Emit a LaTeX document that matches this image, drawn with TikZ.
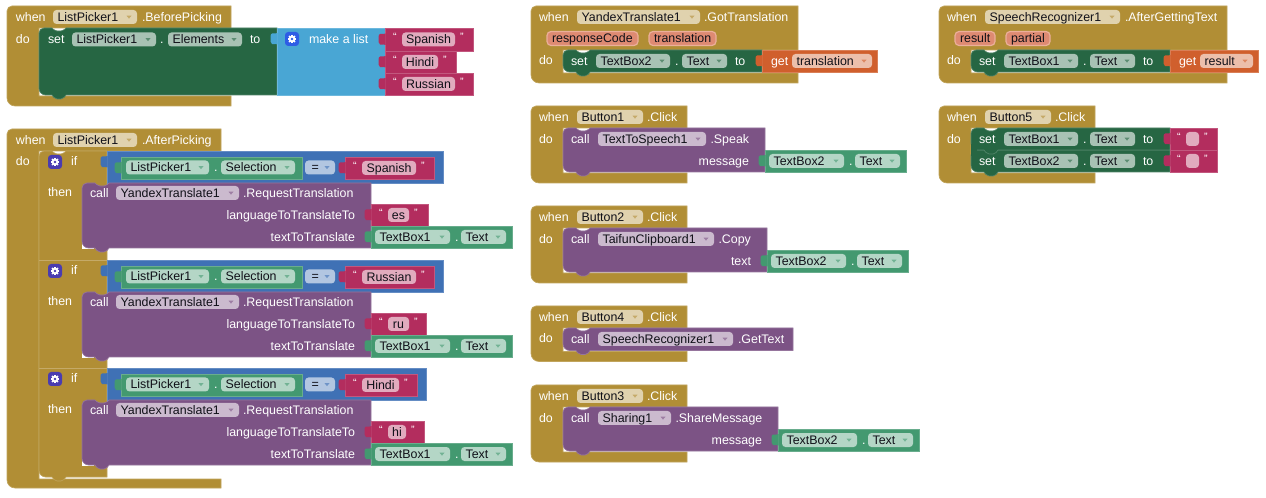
\documentclass[tikz,border=0pt]{standalone}
\usepackage{fontspec}
\setmainfont{Liberation Sans}
\definecolor{cbrown}{HTML}{B18E35}
\definecolor{cdgreen}{HTML}{266643}
\definecolor{cgget}{HTML}{439970}
\definecolor{cpurple}{HTML}{7C5385}
\definecolor{cpink}{HTML}{B32D5E}
\definecolor{corange}{HTML}{D05F2D}
\definecolor{cblue}{HTML}{3F71B5}
\definecolor{clist}{HTML}{49A6D4}
\definecolor{cgear}{HTML}{2E5DE5}
\definecolor{cgearif}{HTML}{4A3CB0}
\definecolor{ctxt}{HTML}{101018}
\definecolor{cparam}{HTML}{DE8A72}
\definecolor{cparamb}{HTML}{EBAF9A}
\newcounter{nid}
\tikzset{
  lab/.style={anchor=base west,inner sep=0pt,outer sep=0pt,text=white,font=\fontsize{9.3}{11}\selectfont},
  labr/.style={lab,anchor=base east},
  dk/.style={lab,text=ctxt},
  dkc/.style={dk,anchor=base}
}
% white label: x, centre y, text
\newcommand\lbl[3]{\stepcounter{nid}\node[lab] (n\arabic{nid}) at (#1,#2+4.4) {#3};}
\newcommand\lblr[3]{\stepcounter{nid}\node[labr] (n\arabic{nid}) at (#1,#2+4.4) {#3};}
% dropdown field: colour, x1, x2, yc, text
\newcommand\pill[5]{\fill[#1!40!white,rounded corners=2.6pt] (#2,#4-7) rectangle (#3,#4+7);
  \stepcounter{nid}\node[dk] (n\arabic{nid}) at (#2+4.6,#4+4.4) {#5};
  \fill[#1!75!white] (#3-10.5,#4-1.3) -- (#3-5.5,#4-1.3) -- (#3-8,#4+1.6) -- cycle;}
% text field of a string: x1, x2, yc, text
\newcommand\strfield[4]{\fill[cpink!40!white,rounded corners=2.6pt] (#1,#3-7) rectangle (#2,#3+7);
  \stepcounter{nid}\node[dkc] (n\arabic{nid}) at ({(#1+#2)/2},#3+4.4) {#4};
  \stepcounter{nid}\node[lab,font=\fontsize{8}{9}\selectfont] (n\arabic{nid}) at (#1-9,#3+1.5) {“};
  \stepcounter{nid}\node[lab,font=\fontsize{8}{9}\selectfont] (n\arabic{nid}) at (#2+5,#3+1.5) {”};}
% value block
\newcommand\vblk[5]{\path[fill=#1,draw=#1!80!white,line width=.5pt] (#2,#3) rectangle (#4,#5);}
% puzzle tab on left edge
\newcommand\tabb[3]{\fill[#3] (#1+.5,#2-6) -- (#1-1.5,#2-5.5) .. controls (#1-4,#2-6) and (#1-6.5,#2-6) .. (#1-6.5,#2-2.5) -- (#1-6.5,#2+2.5) .. controls (#1-6.5,#2+5.5) and (#1-4,#2+5.5) .. (#1-1.5,#2+5) -- (#1+.5,#2+5.5) -- cycle;}
% statement block: colour, x1,y1,x2,y2
\newcommand\stmtb[5]{\path[fill=#1,draw=#1!80!white,line width=.5pt] (#2,#3+8) [rounded corners=3.75pt] -- (#2,#3) [sharp corners] -- (#2+13,#3) [rounded corners=1.5pt] -- (#2+16,#3+3) -- (#2+24,#3+3) [sharp corners] -- (#2+27,#3) -- (#4,#3) -- (#4,#5) -- (#2+27,#5) [rounded corners=1.5pt] -- (#2+24,#5+4) -- (#2+16,#5+4) [sharp corners] -- (#2+13,#5) [rounded corners=5pt] -- (#2,#5) [sharp corners] -- cycle;}
% hat block: x1,y1,x2,y2,xi,y3,y4
\newcommand\hatb[7]{\path[fill=cbrown,draw=cbrown!80!white,line width=.5pt] (#1,#2+10) [rounded corners=3.75pt] -- (#1,#2) [sharp corners] -- (#3,#2) -- (#3,#4) -- (#5,#4) -- (#5,#6) -- (#3,#6) -- (#3,#7) [rounded corners=6pt] -- (#1,#7) [sharp corners] -- cycle;}
\newcommand\gearb[3]{\fill[#3,rounded corners=2.4pt] (#1,#2) rectangle (#1+14,#2+14);
  \foreach \a in {0,45,...,315} \draw[white,line width=.9pt] (#1+7,#2+7) -- ++(\a:4.4);
  \fill[white] (#1+7,#2+7) circle[radius=2.6pt];
  \fill[#3] (#1+7,#2+7) circle[radius=1.1pt];}
% getter TextBox.Text at x, centre y
\newcommand\tbget[3]{\vblk{cgget}{#1}{#2-11}{#1+141}{#2+11}\tabb{#1}{#2}{cgget}
  \pill{cgget}{#1+4}{#1+79}{#2}{#3}\lbl{#1+84}{#2}{.}\pill{cgget}{#1+90}{#1+135}{#2}{Text}}
% set TextBox.Text block: x, top y, box
\newcommand\setb[3]{\stmtb{cdgreen}{#1}{#2}{#1+199}{#2+22}
  \lbl{#1+8}{#2+11}{set}\pill{cdgreen}{#1+33}{#1+107}{#2+11}{#3}\lbl{#1+112}{#2+11}{.}
  \pill{cdgreen}{#1+119}{#1+164}{#2+11}{Text}\lbl{#1+172}{#2+11}{to}}
% get block
\newcommand\getb[6]{\vblk{corange}{#1}{#2}{#3}{#2+22}\tabb{#1}{#2+11}{corange}
  \lbl{#1+9}{#2+11}{get}\pill{corange}{#4}{#5}{#2+11}{#6}}
% event parameter
\newcommand\param[4]{\path[fill=cparam,draw=cparamb,line width=.9pt,rounded corners=3pt] (#1,#3-7) rectangle (#2,#3+7);
  \stepcounter{nid}\node[dk] (n\arabic{nid}) at (#1+5,#3+4.4) {#4};}
% string block
\newcommand\strb[7]{\pgfmathsetmacro\yyc{(#2+#4)/2}\vblk{cpink}{#1}{#2}{#3}{#4}\tabb{#1}{\yyc}{cpink}\strfield{#5}{#6}{\yyc}{#7}}
% if row: top y, word, blue right, string right, pill right, code, code right, code pill right
\newcommand\ifrow[8]{
  \vblk{cblue}{107}{#1}{#3}{#1+32}
  \tabb{107}{#1+11}{cblue}
  \vblk{cgget}{121}{#1+6}{302}{#1+28}\tabb{121}{#1+17}{cgget}
  \pill{cgget}{126}{209}{#1+16.5}{ListPicker1}\lbl{214}{#1+16.5}{.}\pill{cgget}{221}{295}{#1+16.5}{Selection}
  \pill{cblue}{305}{335}{#1+16.5}{\,=}
  \strb{345}{#1+6}{#4}{#1+28}{362}{#5}{#2}
  \gearb{48}{#1+4}{cgearif}\lbl{71}{#1+10}{if}\lbl{48}{#1+41}{then}
  \fill[white] (82,#1+88) rectangle (94,#1+98);
  \stmtb{cpurple}{82}{#1+32}{371}{#1+97}
  \lbl{90}{#1+42}{call}\pill{cpurple}{116}{239}{#1+42}{YandexTranslate1}\lbl{243}{#1+42}{.RequestTranslation}
  \lblr{355}{#1+64}{languageToTranslateTo}\lblr{355}{#1+86}{textToTranslate}
  \strb{371}{#1+53}{#7}{#1+75}{388}{#8}{#6}
  \tbget{371}{#1+86}{TextBox1}
}
% call with one argument
\newcommand\callb[6]{\stmtb{cpurple}{563}{#1}{#2}{#1+44}
  \lbl{571}{#1+11}{call}\pill{cpurple}{598}{#3}{#1+11}{#4}\lbl{#3+4.5}{#1+11}{#5}
  \lblr{#2-16}{#1+33}{#6}\tbget{#2}{#1+33}{TextBox2}}
\begin{document}
\begin{tikzpicture}[x=.75pt,y=-.75pt]
\useasboundingbox (0,0) rectangle (1266,498);
\fill[white] (0,0) rectangle (1266,498);
% ---------- BeforePicking
\hatb{7}{6}{231}{28}{39}{96}{106}
\lbl{16}{17}{when}\pill{cbrown}{53}{137}{17}{ListPicker1}\lbl{142}{17}{.BeforePicking}\lbl{16}{39}{do}
\stmtb{cdgreen}{39}{28}{277}{95}
\lbl{48}{39}{set}\pill{cdgreen}{72}{156}{39.5}{ListPicker1}\lbl{160}{39}{.}\pill{cdgreen}{168}{242}{39.5}{Elements}\lbl{250}{39}{to}
\vblk{clist}{277}{28}{385}{95}\tabb{277}{39}{clist}
\gearb{285}{32}{cgear}\lbl{309}{39}{make a list}
\strb{385}{28}{473}{51}{402}{455}{Spanish}
\strb{385}{51}{456}{73}{402}{438}{Hindi}
\strb{385}{73}{473}{95}{402}{455}{Russian}
% ---------- AfterPicking
\hatb{7}{129}{221}{151}{39}{479}{488}
\lbl{16}{140}{when}\pill{cbrown}{53}{137}{140}{ListPicker1}\lbl{142}{140}{.AfterPicking}\lbl{16}{161}{do}
\stmtb{cbrown}{39}{151}{107}{477}
\draw[cbrown!75!white,line width=.5pt] (39,260) -- (107,260) (39,368) -- (107,368);
\ifrow{151}{Spanish}{443}{434}{416}{es}{428}{409}
\ifrow{260}{Russian}{443}{434}{416}{ru}{426}{409}
\ifrow{368}{Hindi}{426}{417}{399}{hi}{424}{406}
% ---------- GotTranslation
\hatb{531}{6}{798}{50}{563}{73}{83}
\lbl{539}{17}{when}\pill{cbrown}{577}{700}{17}{YandexTranslate1}\lbl{704}{17}{.GotTranslation}
\param{547}{638}{38.5}{responseCode}\param{649}{716}{38.5}{translation}
\lbl{539}{60}{do}
\setb{563}{50}{TextBox2}
\getb{762}{50}{877}{792}{872}{translation}
% ---------- Button1
\hatb{531}{106}{687}{128}{563}{173}{183}
\lbl{539}{117}{when}\pill{cbrown}{577}{643}{117}{Button1}\lbl{647}{117}{.Click}\lbl{539}{139}{do}
\callb{128}{765}{706}{TextToSpeech1}{.Speak}{message}
% ---------- Button2
\hatb{531}{206}{687}{228}{563}{273}{283}
\lbl{539}{217}{when}\pill{cbrown}{577}{643}{217}{Button2}\lbl{647}{217}{.Click}\lbl{539}{239}{do}
\callb{228}{767}{714}{TaifunClipboard1}{.Copy}{text}
% ---------- Button4
\hatb{531}{306}{687}{328}{563}{351.5}{361.5}
\lbl{539}{317}{when}\pill{cbrown}{577}{643}{317}{Button4}\lbl{647}{317}{.Click}\lbl{539}{338.5}{do}
\stmtb{cpurple}{563}{328}{793}{350.5}
\lbl{571}{339}{call}\pill{cpurple}{598}{733}{339}{SpeechRecognizer1}\lbl{738}{339}{.GetText}
% ---------- Button3
\hatb{531}{385}{687}{407}{563}{452}{462}
\lbl{539}{396}{when}\pill{cbrown}{577}{643}{396}{Button3}\lbl{647}{396}{.Click}\lbl{539}{418}{do}
\callb{407}{778}{671}{Sharing1}{.ShareMessage}{message}
% ---------- AfterGettingText
\hatb{939}{6}{1227}{50}{971}{73}{83}
\lbl{947}{17}{when}\pill{cbrown}{985}{1120}{17}{SpeechRecognizer1}\lbl{1125}{17}{.AfterGettingText}
\param{955}{995}{38.5}{result}\param{1006}{1050}{38.5}{partial}
\lbl{947}{60}{do}
\setb{971}{50}{TextBox1}
\getb{1170}{50}{1258}{1200}{1253}{result}
% ---------- Button5
\hatb{939}{106}{1095}{128}{971}{173}{183}
\lbl{947}{117}{when}\pill{cbrown}{985}{1051}{117}{Button5}\lbl{1055}{117}{.Click}\lbl{947}{139}{do}
\setb{971}{150}{TextBox2}
\setb{971}{128}{TextBox1}
\fill[cdgreen] (971,144) rectangle (977,156);
\strb{1170}{128}{1217}{150}{1186}{1199}{}
\strb{1170}{150}{1217}{172}{1186}{1199}{}
\end{tikzpicture}
\end{document}
